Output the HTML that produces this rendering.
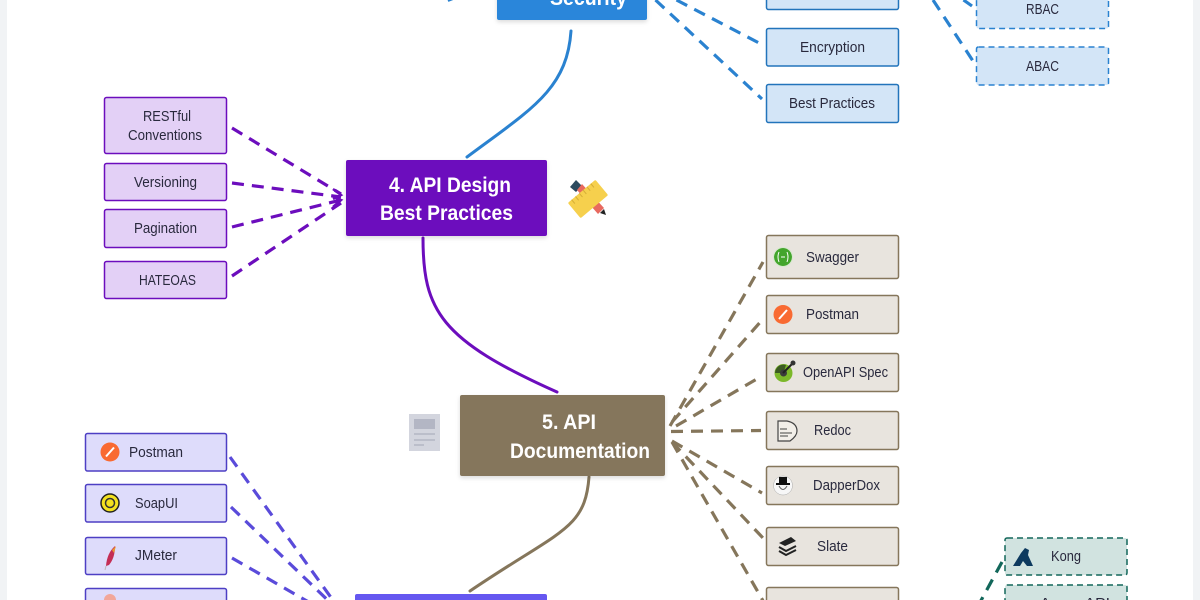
<!DOCTYPE html>
<html lang="en">
<head>
<meta charset="utf-8">
<title>API Mind Map</title>
<style>
html,body{margin:0;padding:0;width:1200px;height:600px;overflow:hidden;background:#fff}
svg{display:block}
text{font-family:"Liberation Sans",sans-serif}
.l{font-size:15px;fill:#29293d}
.t{font-size:21px;font-weight:700;fill:#fff}
.dash{fill:none;stroke-width:3.200;stroke-dasharray:12 8}
</style>
</head>
<body>
<svg width="1200" height="600" viewBox="0 0 1200 600" xmlns="http://www.w3.org/2000/svg">
<defs>
<filter id="s" x="-10%" y="-10%" width="120%" height="130%"><feDropShadow dx="0" dy="2" stdDeviation="2" flood-color="#000" flood-opacity=".14"/></filter>
</defs>
<rect width="1200" height="600" fill="#fff"/>
<rect x="0" y="0" width="7" height="600" fill="#f1f3f5"/>
<rect x="1193" y="0" width="7" height="600" fill="#f1f3f5"/>

<!-- main curves -->
<g fill="none" stroke-width="3" stroke-linecap="round">
<path d="M571 31C567 90 530 110 467 157" stroke="#2a82d0"/>
<path d="M423 238C423 310 440 340 557 392" stroke="#6c0dbd"/>
<path d="M589 477C585 530 560 530 470 591" stroke="#85765b"/>
</g>

<!-- dashed connectors -->
<g class="dash" stroke="#2a82d0">
<path d="M655.500 0L762 99"/><path d="M676.500 0L761 44"/><path d="M933 0L973 61"/><path d="M963.500 0L972 6"/>
</g>
<path d="M448 1L453 -1" stroke="#2a82d0" stroke-width="2"/>
<g class="dash" stroke="#6c0dbd">
<path d="M232 128L341 194"/><path d="M232 183L341 197"/><path d="M232 227L341 200"/><path d="M232 276L341 203"/>
</g>
<path d="M333 189L341 195L333 199M333 197L341 200L333 207" fill="none" stroke="#6c0dbd" stroke-width="2.500"/>
<g class="dash" stroke="#85765b">
<path d="M670 426L763 262"/><path d="M672 422L763 319"/><path d="M676 426L762 376"/><path d="M671 431.500L761 430.500"/>
<path d="M672 441L762 493"/><path d="M672 442L763 538"/><path d="M672 442L766 606"/>
</g>
<g class="dash" stroke="#5a4bda">
<path d="M230 457L340 610"/><path d="M231 507L340 612"/><path d="M232 558L340 620"/>
</g>
<path d="M1002 562L978 606" class="dash" stroke="#12675a"/>

<!-- main nodes -->
<rect x="497" y="-20" width="150" height="40" rx="2" fill="#2c86da" filter="url(#s)"/>
<text class="t" x="550" y="5" textLength="77" lengthAdjust="spacingAndGlyphs">Security</text>
<rect x="346" y="160" width="201" height="76" rx="2" fill="#6c0dbd" filter="url(#s)"/>
<text class="t" x="389" y="192" textLength="122" lengthAdjust="spacingAndGlyphs">4. API Design</text>
<text class="t" x="380" y="220" textLength="133" lengthAdjust="spacingAndGlyphs">Best Practices</text>
<rect x="460" y="395" width="205" height="81" rx="2" fill="#85765b" filter="url(#s)"/>
<text class="t" x="542" y="429" textLength="54" lengthAdjust="spacingAndGlyphs">5. API</text>
<text class="t" x="510" y="458" textLength="140" lengthAdjust="spacingAndGlyphs">Documentation</text>
<rect x="355" y="594" width="192" height="20" rx="2" fill="#6557f0"/>

<!-- purple leaves -->
<g fill="#e3d0f6" stroke="#6c0dbd" stroke-width="1.500">
<rect x="104.500" y="97.500" width="122" height="56" rx="2"/>
<rect x="104.500" y="163.500" width="122" height="37" rx="2"/>
<rect x="104.500" y="209.500" width="122" height="38" rx="2"/>
<rect x="104.500" y="261.500" width="122" height="37" rx="2"/>
</g>
<text class="l" x="143" y="121" textLength="48" lengthAdjust="spacingAndGlyphs">RESTful</text>
<text class="l" x="128" y="140" textLength="74" lengthAdjust="spacingAndGlyphs">Conventions</text>
<text class="l" x="134" y="187" textLength="63" lengthAdjust="spacingAndGlyphs">Versioning</text>
<text class="l" x="134" y="233" textLength="63" lengthAdjust="spacingAndGlyphs">Pagination</text>
<text class="l" x="139" y="285" textLength="57" lengthAdjust="spacingAndGlyphs">HATEOAS</text>

<!-- blue leaves -->
<g fill="#d3e5f7" stroke="#2274bb" stroke-width="1.500">
<rect x="766.500" y="-20" width="132" height="29.500" rx="2"/>
<rect x="766.500" y="28.500" width="132" height="37.500" rx="2"/>
<rect x="766.500" y="84.500" width="132" height="38" rx="2"/>
</g>
<text class="l" x="800" y="52" textLength="65" lengthAdjust="spacingAndGlyphs">Encryption</text>
<text class="l" x="789" y="108" textLength="86" lengthAdjust="spacingAndGlyphs">Best Practices</text>
<g fill="#d3e5f7" stroke="#2a82d0" stroke-width="1.500" stroke-dasharray="6 4">
<rect x="976.500" y="-20" width="132" height="48.500" rx="2"/>
<rect x="976.500" y="47" width="132" height="38" rx="2"/>
</g>
<text class="l" x="1026" y="14" textLength="33" lengthAdjust="spacingAndGlyphs">RBAC</text>
<text class="l" x="1026" y="71" textLength="33" lengthAdjust="spacingAndGlyphs">ABAC</text>

<!-- brown leaves -->
<g fill="#e8e4de" stroke="#85765b" stroke-width="1.500">
<rect x="766.500" y="235.500" width="132" height="43" rx="2"/>
<rect x="766.500" y="295.500" width="132" height="38" rx="2"/>
<rect x="766.500" y="353.500" width="132" height="38" rx="2"/>
<rect x="766.500" y="411.500" width="132" height="38" rx="2"/>
<rect x="766.500" y="466.500" width="132" height="38" rx="2"/>
<rect x="766.500" y="527.500" width="132" height="38" rx="2"/>
<rect x="766.500" y="587.500" width="132" height="30" rx="2"/>
</g>
<text class="l" x="806" y="262" textLength="53" lengthAdjust="spacingAndGlyphs">Swagger</text>
<text class="l" x="806" y="319" textLength="53" lengthAdjust="spacingAndGlyphs">Postman</text>
<text class="l" x="803" y="377" textLength="85" lengthAdjust="spacingAndGlyphs">OpenAPI Spec</text>
<text class="l" x="814" y="435" textLength="37" lengthAdjust="spacingAndGlyphs">Redoc</text>
<text class="l" x="813" y="490" textLength="67" lengthAdjust="spacingAndGlyphs">DapperDox</text>
<text class="l" x="817" y="551" textLength="31" lengthAdjust="spacingAndGlyphs">Slate</text>

<!-- indigo leaves -->
<g fill="#dedcfb" stroke="#4d3fc4" stroke-width="1.500">
<rect x="85.500" y="433.500" width="141" height="37.500" rx="2"/>
<rect x="85.500" y="484.500" width="141" height="37.500" rx="2"/>
<rect x="85.500" y="537.500" width="141" height="37" rx="2"/>
<rect x="85.500" y="588.500" width="141" height="30" rx="2"/>
</g>
<text class="l" x="129" y="457" textLength="54" lengthAdjust="spacingAndGlyphs">Postman</text>
<text class="l" x="135" y="508" textLength="43" lengthAdjust="spacingAndGlyphs">SoapUI</text>
<text class="l" x="135" y="560" textLength="42" lengthAdjust="spacingAndGlyphs">JMeter</text>

<!-- green leaves -->
<g fill="#d1e3e0" stroke="#12675a" stroke-width="1.500" stroke-dasharray="6 4">
<rect x="1005" y="538" width="122" height="37" rx="2"/>
<rect x="1005" y="585" width="122" height="35" rx="2"/>
</g>
<text class="l" x="1051" y="561" textLength="30" lengthAdjust="spacingAndGlyphs">Kong</text>
<text class="l" x="1040" y="608" textLength="70" lengthAdjust="spacingAndGlyphs">Azure API</text>

<!-- ruler and pencil icon -->
<path d="M570 187L576 180L582 186L576 192Z" fill="#2c4a5e"/>
<path d="M577 190L582 184L604 208L598 214Z" fill="#e8695f"/>
<path d="M600 213L604 209L606 215Z" fill="#222"/>
<g transform="translate(588 199) rotate(-40)">
<rect x="-18" y="-10" width="36" height="20" rx="1.500" fill="#f6d04d"/>
<path d="M-13 -10v5M-8 -10v5M-3 -10v5M2 -10v5M7 -10v5M12 -10v5" stroke="#d5ad36" stroke-width="1"/>
</g>

<!-- document icon -->
<rect x="409" y="414" width="31" height="37" fill="#d3d5de"/>
<rect x="414" y="419" width="21" height="10" fill="#b3b6c4"/>
<path d="M414 434H435M414 440H435M414 445H424" stroke="#b3b6c4" stroke-width="1.500"/>

<!-- tool icons -->
<circle cx="783" cy="257" r="9" fill="#43a52c"/>
<circle cx="783" cy="257" r="9.500" fill="none" stroke="#d7e8cf" stroke-width="1"/>
<path d="M779 252Q777 257 779 262M787 252Q789 257 787 262M781 257H785" fill="none" stroke="#fff" stroke-width="1"/>

<circle cx="783" cy="314.500" r="9.500" fill="#f96a32"/>
<path d="M779 319L787 310" stroke="#fff" stroke-width="2"/>
<circle cx="110" cy="452" r="9.500" fill="#f96a32"/>
<path d="M106 456.500L114 447.500" stroke="#fff" stroke-width="2"/>

<circle cx="783.500" cy="373" r="9" fill="#7cb82a"/>
<path d="M775 373A8.500 8.500 0 0 1 786 365L783.500 373Z" fill="#3b5a22"/>
<circle cx="783.500" cy="373" r="3.500" fill="#3b3b3b"/>
<path d="M783 373L793 363" stroke="#222" stroke-width="2"/>
<circle cx="793" cy="363" r="2.500" fill="#333"/>

<path d="M778 421H787Q797 423 797 431Q797 436 790 441H778Z" fill="#f2efe9" stroke="#444" stroke-width="1.200"/>
<path d="M780 429H787M780 433H792M780 436H788" stroke="#444" stroke-width="1"/>

<circle cx="783" cy="485.500" r="9.500" fill="#f7f7f7" stroke="#aaa" stroke-width=".5"/>
<path d="M776 483H790V485H776ZM779 477H787V483H779Z" fill="#111"/>
<path d="M779 486Q783 493 787 486" fill="none" stroke="#666" stroke-width="1"/>

<path d="M779 543L791 537L796 541L785 546Z" fill="#222"/>
<path d="M779 547L786 551L796 546M779 551L786 555L796 550" fill="none" stroke="#222" stroke-width="2"/>

<circle cx="110" cy="503" r="9" fill="#f3e11f" stroke="#222" stroke-width="1.500"/>
<circle cx="110" cy="503" r="4.500" fill="none" stroke="#333" stroke-width="1.500"/>

<path d="M106 566Q107 553 115 546Q115 558 109 565Z" fill="#c42e55"/>
<path d="M112 550L116 546L114 553Z" fill="#e99a2e"/>
<path d="M106 566L105 570" stroke="#bbb" stroke-width="1"/>

<circle cx="110" cy="600" r="6" fill="#f2a79a"/>

<path d="M1013 566L1021 553L1025 548L1029 550L1028 555L1033 566H1027L1023 561L1020 566Z" fill="#0d3a5f"/>
</svg>
</body>
</html>
